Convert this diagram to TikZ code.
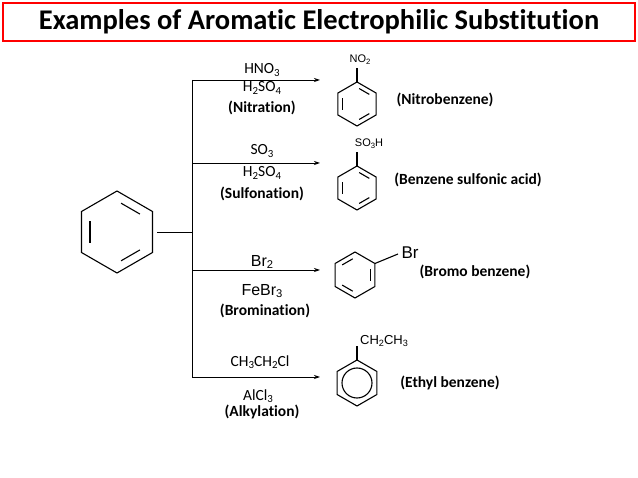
\documentclass[tikz,border=0pt]{standalone}
\usepackage{fontspec}
\setmainfont[RawFeature=-liga]{Carlito}
\newfontfamily\arialf{Liberation Sans}
\usetikzlibrary{calc,arrows.meta}
\newcommand{\sbs}[1]{\raisebox{-0.3ex}{\scalebox{0.7}{#1}}}
\tikzset{
  bond/.style={line width=1.1pt},
  rxn/.style={line width=0.8pt},
  arr/.style={line width=0.8pt,-{Stealth[length=6pt,width=4pt]}},
  lab/.style={font=\fontsize{15.5}{16}\selectfont,inner sep=0pt},
  blab/.style={font=\bfseries\fontsize{15.5}{16}\selectfont,inner sep=0pt},
  sub/.style={font=\arialf\fontsize{11}{12}\selectfont,inner sep=0pt},
}
\newcommand{\benz}[5]{%
  \begin{scope}[shift={(#1,#2)}]
  \draw[bond] (#4:#3) \foreach \k in {1,...,5}{ -- ({#4+60*\k}:#3)} -- cycle;
  \foreach \a in {#5}{
    \draw[bond] ($(\a:0.76*#3)!0.15!({\a+60}:0.76*#3)$) -- ($(\a:0.76*#3)!0.85!({\a+60}:0.76*#3)$);}
  \end{scope}}
\begin{document}
\begin{tikzpicture}[x=1pt,y=-1pt]
\useasboundingbox (0,0) rectangle (638,478);
\fill[white] (0,0) rectangle (638,478);
\node[draw=red,line width=1.5pt,minimum width=632pt,minimum height=38pt,inner sep=0pt,font=\bfseries\fontsize{28.5}{30}\selectfont] (title) at (319,22) {Examples of Aromatic Electrophilic Substitution};
\benz{117}{232}{41}{-90}{-90,30,150}
\coordinate (bz) at (157,232);
\coordinate (vj) at (192,232);
\coordinate (v1) at (192,80);
\coordinate (v4) at (192,377);
\draw[rxn] (bz) -- (vj);
\draw[rxn] (v1) -- (v4);
\coordinate (e1) at (320,80);
\coordinate (e2) at (320,163);
\coordinate (v2) at (192,163);
\coordinate (v3) at (192,270);
\coordinate (e3) at (320,270);
\coordinate (e4) at (320,377);
\draw[arr] (v1) -- (e1);
\draw[arr] (v2) -- (e2);
\draw[arr] (v3) -- (e3);
\draw[arr] (v4) -- (e4);
\node[lab] (r1a) at (262,70) {HNO\sbs{3}};
\node[lab] (r1b) at (262,88) {H\sbs{2}SO\sbs{4}};
\node[blab] (r1c) at (262,108) {(Nitration)};
\node[lab] (r2a) at (262,151) {SO\sbs{3}};
\node[lab] (r2b) at (262,173) {H\sbs{2}SO\sbs{4}};
\node[blab] (r2c) at (262,194) {(Sulfonation)};
\node[lab,font=\arialf\fontsize{16}{17}\selectfont] (r3a) at (262,262) {Br\sbs{2}};
\node[lab,font=\arialf\fontsize{16}{17}\selectfont] (r3b) at (262,291) {FeBr\sbs{3}};
\node[blab] (r3c) at (265,311) {(Bromination)};
\node[lab] (r4a) at (260,362) {CH\sbs{3}CH\sbs{2}Cl};
\node[lab] (r4b) at (258,396) {AlCl\sbs{3}};
\node[blab] (r4c) at (262,412) {(Alkylation)};
\benz{357}{104}{22}{-90}{-90,30,150}
\coordinate (n1) at (357,82); \coordinate (n2) at (357,68);
\draw[bond] (n1) -- (n2);
\node[sub] (no2) at (360,60) {NO\sbs{2}};
\node[blab] (p1) at (445,100) {(Nitrobenzene)};
\benz{357}{188}{22}{-90}{-90,30,150}
\coordinate (s1) at (357,166); \coordinate (s2) at (357,152);
\draw[bond] (s1) -- (s2);
\node[sub] (so3h) at (369,144) {SO\sbs{3}H};
\node[blab] (p2) at (468,180) {(Benzene sulfonic acid)};
\benz{355}{275}{23}{-90}{-150,-30,90}
\coordinate (b1) at ($(355,275)+(-30:23)$); \coordinate (b2) at (398,254);
\draw[bond] (b1) -- (b2);
\node[lab,font=\arialf\fontsize{17}{18}\selectfont] (br) at (410,253) {Br};
\node[blab] (p3) at (475,272) {(Bromo benzene)};
\benz{357}{383}{23}{-90}{}
\draw[bond] (357,383) circle (15);
\coordinate (c1) at (357,360); \coordinate (c2) at (357,346);
\draw[bond] (c1) -- (c2);
\node[sub,font=\arialf\fontsize{13}{14}\selectfont] (et) at (384,341) {CH\sbs{2}CH\sbs{3}};
\node[blab] (p4) at (450,383) {(Ethyl benzene)};
\end{tikzpicture}
\end{document}
